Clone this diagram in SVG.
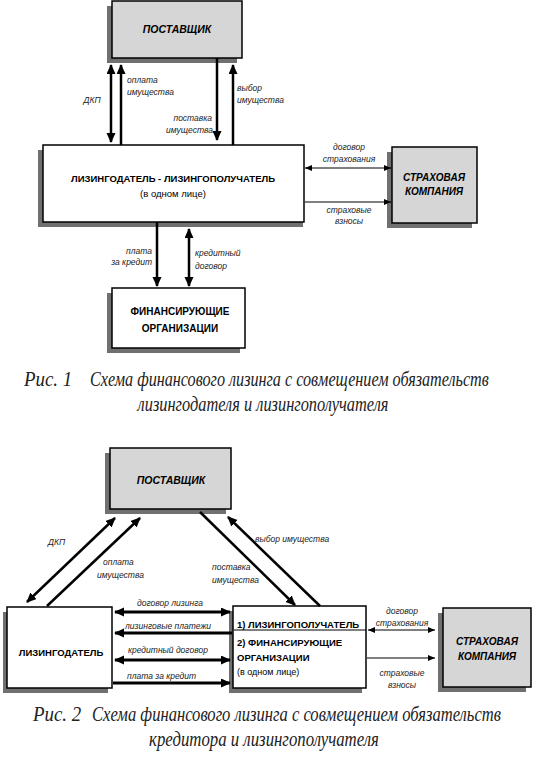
<svg xmlns="http://www.w3.org/2000/svg" width="538" height="768" viewBox="0 0 538 768">
<style>
.box{stroke:#000;stroke-width:1.5}
.gray{fill:#d6d6d6}
.white{fill:#fff}
.shadow{fill:#707070}
.t{font-family:"Liberation Sans",Arial,sans-serif;font-weight:bold;fill:#000;font-size:9.5px}
.ti{font-family:"Liberation Sans",Arial,sans-serif;font-weight:bold;font-style:italic;fill:#000;font-size:10.5px}
.tr{font-family:"Liberation Sans",Arial,sans-serif;fill:#000;font-size:9.5px}
.lbl{font-family:"Liberation Sans",Arial,sans-serif;font-style:italic;font-size:8.5px;fill:#222}
.cap{font-family:"Liberation Serif","Times New Roman",serif;font-style:italic;font-size:21px;fill:#222}
.thick{stroke:#000;stroke-width:2.5;fill:none}
.thick3{stroke:#000;stroke-width:3;fill:none}
.thin{stroke:#000;stroke-width:1;fill:none}
.c{text-anchor:middle}
.e{text-anchor:end}
</style>
<defs>
<marker id="ah" markerUnits="userSpaceOnUse" markerWidth="11" markerHeight="10" refX="9" refY="4.5" orient="auto-start-reverse"><path d="M0,0 L10,4.5 L0,9 z" fill="#000"/></marker>
<marker id="as" markerUnits="userSpaceOnUse" markerWidth="8" markerHeight="7" refX="7" refY="3" orient="auto-start-reverse"><path d="M0,0 L7,3 L0,6 z" fill="#000"/></marker>
</defs>
<rect width="538" height="768" fill="#fff"/>

<!-- Figure 1 -->
<g id="supplier1">
<rect class="shadow" x="107" y="6" width="130" height="57"/>
<rect class="box gray" x="112" y="1" width="130" height="57"/>
<text class="ti c" x="177" y="33">ПОСТАВЩИК</text>
</g>
<g id="lessor-lessee1">
<rect class="shadow" x="38" y="150" width="265" height="77"/>
<rect class="box white" x="43" y="145" width="261" height="77"/>
<text class="t c" x="173" y="182">ЛИЗИНГОДАТЕЛЬ - ЛИЗИНГОПОЛУЧАТЕЛЬ</text>
<text class="tr c" x="173" y="197">(в одном лице)</text>
</g>
<g id="insurer1">
<rect class="shadow" x="387" y="152" width="85" height="76"/>
<rect class="box gray" x="392" y="147" width="85" height="76"/>
<text class="ti c" x="434" y="181" style="font-size:10px">СТРАХОВАЯ</text>
<text class="ti c" x="434" y="195" style="font-size:10px">КОМПАНИЯ</text>
</g>
<g id="finance1">
<rect class="shadow" x="107" y="293" width="133" height="60"/>
<rect class="box white" x="112" y="288" width="133" height="60"/>
<text class="t c" x="180" y="315" style="font-size:10px">ФИНАНСИРУЮЩИЕ</text>
<text class="t c" x="180" y="332" style="font-size:10px">ОРГАНИЗАЦИИ</text>
</g>

<g id="connectors1">
<line class="thick" x1="111" y1="65" x2="111" y2="142" marker-start="url(#ah)" marker-end="url(#ah)"/>
<line class="thick" x1="121" y1="145" x2="121" y2="65" marker-end="url(#ah)"/>
<line class="thick" x1="217" y1="58" x2="217" y2="140" marker-end="url(#ah)"/>
<line class="thick" x1="233" y1="145" x2="233" y2="65" marker-end="url(#ah)"/>
<line class="thin" x1="305" y1="168" x2="391" y2="168" marker-start="url(#as)" marker-end="url(#as)"/>
<line class="thin" x1="305" y1="202" x2="391" y2="202" marker-end="url(#as)"/>
<line class="thick" x1="157" y1="222" x2="157" y2="286" marker-end="url(#ah)"/>
<line class="thick" x1="189" y1="229" x2="189" y2="286" marker-start="url(#ah)" marker-end="url(#ah)"/>
</g>
<g id="labels1">
<text class="lbl c" x="92" y="103">ДКП</text>
<text class="lbl" x="127" y="83">оплата</text>
<text class="lbl" x="127" y="95">имущества</text>
<text class="lbl e" x="212" y="121">поставка</text>
<text class="lbl e" x="213" y="133">имущества</text>
<text class="lbl" x="237" y="91">выбор</text>
<text class="lbl" x="237" y="103">имущества</text>
<text class="lbl c" x="349" y="150">договор</text>
<text class="lbl c" x="349" y="162">страхования</text>
<text class="lbl c" x="349" y="213">страховые</text>
<text class="lbl c" x="349" y="224">взносы</text>
<text class="lbl e" x="152" y="254">плата</text>
<text class="lbl e" x="152" y="265">за кредит</text>
<text class="lbl" x="195" y="256">кредитный</text>
<text class="lbl" x="195" y="269">договор</text>
</g>
<g id="caption1">
<text class="cap" transform="translate(24,386) scale(0.9,1)">Рис. 1</text>
<text class="cap" transform="translate(90,386) scale(0.77,1)">Схема финансового лизинга с совмещением обязательств</text>
<text class="cap c" transform="translate(263,411) scale(0.78,1)">лизингодателя и лизингополучателя</text>
</g>

<!-- Figure 2 -->
<g id="supplier2">
<rect class="shadow" x="105" y="453" width="121" height="61"/>
<rect class="box gray" x="110" y="448" width="121" height="61"/>
<text class="ti c" x="171" y="484">ПОСТАВЩИК</text>
</g>
<g id="lessor2">
<rect class="shadow" x="3" y="612" width="105" height="81"/>
<rect class="box white" x="7" y="607" width="105" height="81"/>
<text class="t c" x="61" y="656">ЛИЗИНГОДАТЕЛЬ</text>
</g>
<g id="lessee2">
<rect class="shadow" x="229" y="611" width="133" height="82"/>
<rect class="box white" x="233" y="606" width="133" height="82"/>
<text class="t" x="237" y="628">1)  ЛИЗИНГОПОЛУЧАТЕЛЬ</text>
<line class="thin" x1="234" y1="630" x2="366" y2="630"/>
<text class="t" x="237" y="646">2)  ФИНАНСИРУЮЩИЕ</text>
<text class="t" x="237" y="661">ОРГАНИЗАЦИИ</text>
<text class="tr" x="237" y="675" style="font-size:9px">(в одном лице)</text>
</g>
<g id="insurer2">
<rect class="shadow" x="438" y="613" width="88" height="79"/>
<rect class="box gray" x="443" y="608" width="88" height="79"/>
<text class="ti c" x="487" y="645" style="font-size:10px">СТРАХОВАЯ</text>
<text class="ti c" x="487" y="660" style="font-size:10px">КОМПАНИЯ</text>
</g>

<g id="connectors2">
<line class="thick" x1="115" y1="518" x2="27" y2="602" marker-start="url(#ah)" marker-end="url(#ah)"/>
<line class="thick" x1="47" y1="606" x2="140" y2="518" marker-end="url(#ah)"/>
<line class="thick" x1="200" y1="512" x2="295" y2="605" marker-end="url(#ah)"/>
<line class="thick" x1="320" y1="606" x2="228" y2="517" marker-end="url(#ah)"/>
<line class="thick3" x1="115" y1="612" x2="230" y2="612" marker-start="url(#ah)" marker-end="url(#ah)"/>
<line class="thick3" x1="232" y1="633" x2="115" y2="633" marker-end="url(#ah)"/>
<line class="thick3" x1="115" y1="660" x2="230" y2="660" marker-start="url(#ah)" marker-end="url(#ah)"/>
<line class="thick3" x1="113" y1="683" x2="230" y2="683" marker-end="url(#ah)"/>
<line class="thin" x1="368" y1="630" x2="435" y2="630" marker-start="url(#as)" marker-end="url(#as)"/>
<line class="thin" x1="367" y1="658" x2="435" y2="658" marker-end="url(#as)"/>
</g>
<g id="labels2">
<text class="lbl" x="48" y="545">ДКП</text>
<text class="lbl" x="103" y="565">оплата</text>
<text class="lbl" x="97" y="578">имущества</text>
<text class="lbl" x="255" y="542">выбор имущества</text>
<text class="lbl" x="212" y="570">поставка</text>
<text class="lbl" x="212" y="583">имущества</text>
<text class="lbl" x="137" y="606">договор лизинга</text>
<text class="lbl" x="125" y="629">лизинговые платежи</text>
<text class="lbl" x="128" y="653">кредитный договор</text>
<text class="lbl" x="127" y="679">плата за кредит</text>
<text class="lbl c" x="402" y="614">договор</text>
<text class="lbl c" x="402" y="626">страхования</text>
<text class="lbl c" x="402" y="676">страховые</text>
<text class="lbl c" x="402" y="688">взносы</text>
</g>
<g id="caption2">
<text class="cap" transform="translate(33,721) scale(0.9,1)">Рис. 2</text>
<text class="cap" transform="translate(92,721) scale(0.79,1)">Схема финансового лизинга с совмещением обязательств</text>
<text class="cap c" transform="translate(264,746) scale(0.8,1)">кредитора и лизингополучателя</text>
</g>
</svg>
